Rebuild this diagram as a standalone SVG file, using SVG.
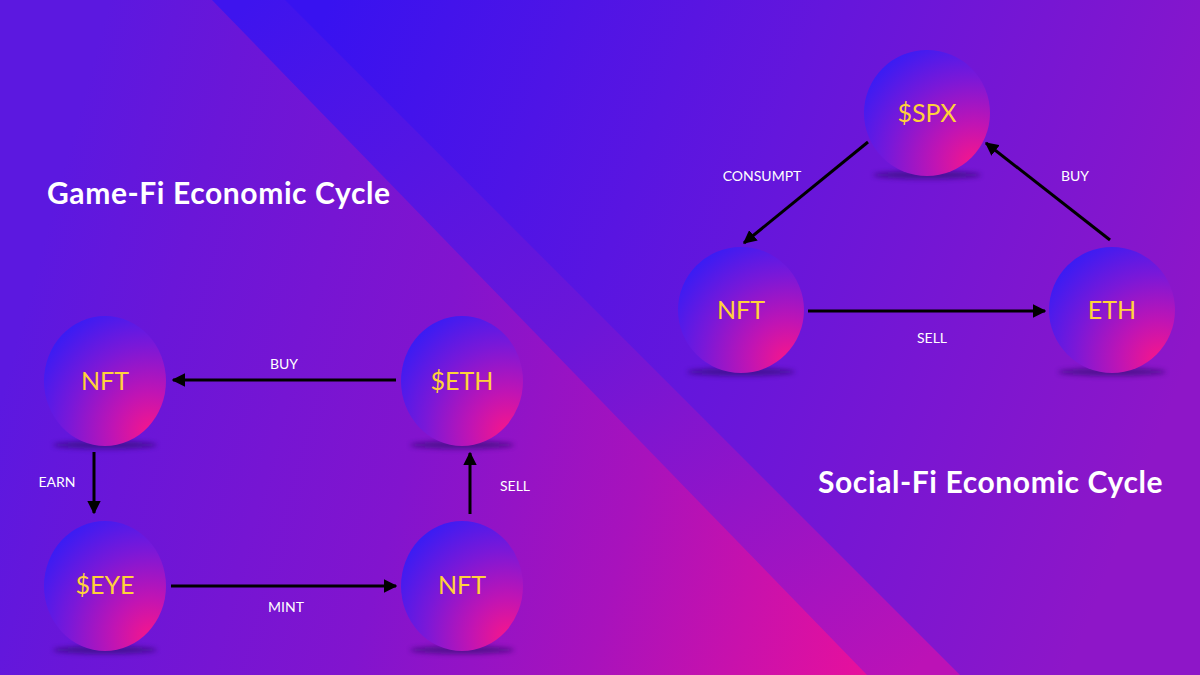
<svg xmlns="http://www.w3.org/2000/svg" width="1200" height="675" viewBox="0 0 1200 675">
<defs>
<linearGradient id="bgLeft" gradientUnits="userSpaceOnUse" x1="0" y1="400" x2="880" y2="640">
<stop offset="0" stop-color="#5c18e0"/>
<stop offset="0.15" stop-color="#6a16d8"/>
<stop offset="0.45" stop-color="#8214ce"/>
<stop offset="0.7" stop-color="#a812bc"/>
<stop offset="1" stop-color="#e8109c"/>
</linearGradient>
<linearGradient id="bgBand" gradientUnits="userSpaceOnUse" x1="250" y1="0" x2="910" y2="675">
<stop offset="0" stop-color="#3e14ee"/>
<stop offset="0.5" stop-color="#6c16d8"/>
<stop offset="1" stop-color="#bc12b6"/>
</linearGradient>
<linearGradient id="bgRight" gradientUnits="userSpaceOnUse" x1="330" y1="0" x2="1200" y2="330">
<stop offset="0" stop-color="#3812f0"/>
<stop offset="0.5" stop-color="#6416dc"/>
<stop offset="1" stop-color="#8e16c8"/>
</linearGradient>
<radialGradient id="sphere" cx="0.88" cy="0.9" r="1.05" fx="0.88" fy="0.9">
<stop offset="0" stop-color="#f8168a"/>
<stop offset="0.3" stop-color="#c014b4"/>
<stop offset="0.65" stop-color="#7a18d8"/>
<stop offset="1" stop-color="#3a1cf4"/>
</radialGradient>
<filter id="blur" x="-50%" y="-200%" width="200%" height="500%">
<feGaussianBlur stdDeviation="2.5"/>
</filter>
<marker id="ah" viewBox="0 0 10 10" refX="9" refY="5" markerWidth="4.5" markerHeight="4.5" orient="auto" markerUnits="strokeWidth">
<path d="M0,0 L10,5 L0,10 Z" fill="#000"/>
</marker>
<style>
.sph{fill:url(#sphere);}
.shd{fill:#2a0a6a;opacity:0.6;filter:url(#blur);}
.nl{font-family:Lato,"Open Sans","Liberation Sans",sans-serif;font-size:25px;fill:#ffd23a;text-anchor:middle;}
.el{font-family:Lato,"Open Sans","Liberation Sans",sans-serif;font-size:14px;fill:#ffffff;text-anchor:middle;}
.ttl{font-family:Lato,"Open Sans","Liberation Sans",sans-serif;font-size:30px;font-weight:700;fill:#ffffff;letter-spacing:0.6px;}
.ar{stroke:#000;stroke-width:3;fill:none;marker-end:url(#ah);}
</style>
</defs>

<g id="background">
<rect x="0" y="0" width="1200" height="675" fill="url(#bgRight)"/>
<polygon points="200,0 285,0 960,675 855,675" fill="url(#bgBand)"/>
<polygon points="0,0 212,0 867,675 0,675" fill="url(#bgLeft)"/>
</g>

<text class="ttl" x="47" y="204">Game-Fi Economic Cycle</text>
<text class="ttl" x="818" y="493">Social-Fi Economic Cycle</text>

<g id="gf-nft-top">
<ellipse class="shd" cx="105" cy="445" rx="52" ry="4"/>
<ellipse class="sph" cx="105" cy="381" rx="61" ry="65"/>
<text class="nl" x="105" y="390">NFT</text>
</g>
<g id="gf-eth">
<ellipse class="shd" cx="462" cy="445" rx="52" ry="4"/>
<ellipse class="sph" cx="462" cy="381" rx="61" ry="65"/>
<text class="nl" x="462" y="390">$ETH</text>
</g>
<g id="gf-eye">
<ellipse class="shd" cx="105" cy="650" rx="52" ry="4"/>
<ellipse class="sph" cx="105" cy="586" rx="61" ry="65"/>
<text class="nl" x="105" y="594">$EYE</text>
</g>
<g id="gf-nft-bottom">
<ellipse class="shd" cx="462" cy="650" rx="52" ry="4"/>
<ellipse class="sph" cx="462" cy="586" rx="61" ry="65"/>
<text class="nl" x="462" y="594">NFT</text>
</g>

<g id="sf-spx">
<ellipse class="shd" cx="927" cy="175" rx="54" ry="4"/>
<ellipse class="sph" cx="927" cy="113" rx="63" ry="63"/>
<text class="nl" x="927" y="122">$SPX</text>
</g>
<g id="sf-nft">
<ellipse class="shd" cx="741" cy="372" rx="54" ry="4"/>
<ellipse class="sph" cx="741" cy="310" rx="63" ry="63"/>
<text class="nl" x="741" y="319">NFT</text>
</g>
<g id="sf-eth">
<ellipse class="shd" cx="1112" cy="372" rx="54" ry="4"/>
<ellipse class="sph" cx="1112" cy="310" rx="63" ry="63"/>
<text class="nl" x="1112" y="319">ETH</text>
</g>

<g id="connectors">
<line class="ar" x1="396" y1="380" x2="173" y2="380"/>
<line class="ar" x1="94" y1="452" x2="94" y2="513"/>
<line class="ar" x1="171" y1="586" x2="396" y2="586"/>
<line class="ar" x1="470" y1="514" x2="470" y2="453"/>
<line class="ar" x1="868" y1="142" x2="744" y2="243"/>
<line class="ar" x1="808" y1="311" x2="1045" y2="311"/>
<line class="ar" x1="1110" y1="240" x2="986" y2="143"/>
<text class="el" x="284" y="369">BUY</text>
<text class="el" x="57" y="487">EARN</text>
<text class="el" x="286" y="612">MINT</text>
<text class="el" x="515" y="491">SELL</text>
<text class="el" x="762" y="181">CONSUMPT</text>
<text class="el" x="932" y="343">SELL</text>
<text class="el" x="1075" y="181">BUY</text>
</g>
</svg>
